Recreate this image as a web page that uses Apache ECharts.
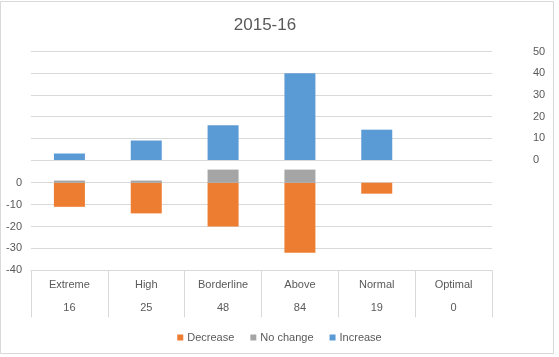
<!DOCTYPE html>
<html>
<head>
<meta charset="utf-8">
<script src="https://cdn.jsdelivr.net/npm/echarts@6/dist/echarts.min.js"></script>
<style>html,body{margin:0;padding:0;background:#fff}#c{width:559px;height:357px}</style>
</head>
<body>
<div id="c"></div>
<script>
const categories = ['Extreme', 'High', 'Borderline', 'Above', 'Normal', 'Optimal'];
const counts = [16, 25, 48, 84, 19, 0];
const increase = [3, 9, 16, 40, 14, 0];
const decrease = [-11, -14, -20, -32, -5, 0];
const noChange = [1, 1, 6, 6, 0, 0];
const title = '2015-16';

const FONT = 'Liberation Sans';
const TXT = '#595959';
const GRIDC = '#d9d9d9';

const chart = echarts.init(document.getElementById('c'), null, {renderer: 'canvas'});
chart.setOption({
  animation: false,
  backgroundColor: '#fff',
  textStyle: {fontFamily: FONT},
  title: {
    text: title, left: 260, top: 12, textAlign: 'center',
    textStyle: {fontFamily: FONT, fontSize: 17, fontWeight: 'normal', color: TXT}
  },
  legend: {
    data: ['Decrease', 'No change', 'Increase'],
    left: 'center', top: 327,
    itemWidth: 6, itemHeight: 6, itemGap: 16, icon: 'rect',
    textStyle: {fontFamily: FONT, fontSize: 11, color: TXT, padding: [0, 0, 0, -1]}
  },
  graphic: [{
    type: 'rect', shape: {x: 0.5, y: 1.5, width: 553, height: 352},
    style: {fill: 'none', stroke: GRIDC, lineWidth: 1}, silent: true, z: -1
  }],
  grid: [
    {left: 31, right: 67, top: 51.7, height: 108.3},
    {left: 31, right: 67, top: 169.6, height: 100.7}
  ],
  xAxis: [
    {type: 'category', gridIndex: 0, data: categories,
     axisLine: {show: false}, axisTick: {show: false}, axisLabel: {show: false}},
    {type: 'category', gridIndex: 1, data: categories, position: 'bottom',
     axisLine: {show: true, onZero: false, lineStyle: {color: GRIDC}},
     axisTick: {show: true, interval: 0, length: 47, lineStyle: {color: GRIDC}},
     axisLabel: {
       interval: 0, margin: 3,
       formatter: (v, i) => '{n|' + v + '}\n{c|' + counts[i] + '}',
       rich: {
         n: {fontFamily: FONT, fontSize: 11, color: TXT, lineHeight: 23},
         c: {fontFamily: FONT, fontSize: 11, color: TXT, lineHeight: 23}
       }
     }}
  ],
  yAxis: [
    {type: 'value', gridIndex: 0, position: 'right', min: 0, max: 50, interval: 10,
     axisLine: {show: false}, axisTick: {show: false},
     axisLabel: {margin: 41, fontFamily: FONT, fontSize: 11, color: TXT},
     splitLine: {lineStyle: {color: GRIDC}}},
    {type: 'value', gridIndex: 1, position: 'left', min: -40, max: 6, interval: 10,
     axisLine: {show: false}, axisTick: {show: false},
     axisLabel: {margin: 9, fontFamily: FONT, fontSize: 11, color: TXT,
       showMaxLabel: false, formatter: v => (v > 0 ? '' : String(v))},
     splitLine: {lineStyle: {color: GRIDC}, showMaxLine: false}}
  ],
  series: [
    {name: 'Decrease', type: 'bar', xAxisIndex: 1, yAxisIndex: 1, stack: 'low',
     data: decrease, barWidth: 31, itemStyle: {color: '#ED7D31'}},
    {name: 'No change', type: 'bar', xAxisIndex: 1, yAxisIndex: 1, stack: 'low',
     data: noChange, barWidth: 31, itemStyle: {color: '#A5A5A5'}},
    {name: 'Increase', type: 'bar', xAxisIndex: 0, yAxisIndex: 0,
     data: increase, barWidth: 31, itemStyle: {color: '#5B9BD5'}}
  ]
});
</script>
</body>
</html>
